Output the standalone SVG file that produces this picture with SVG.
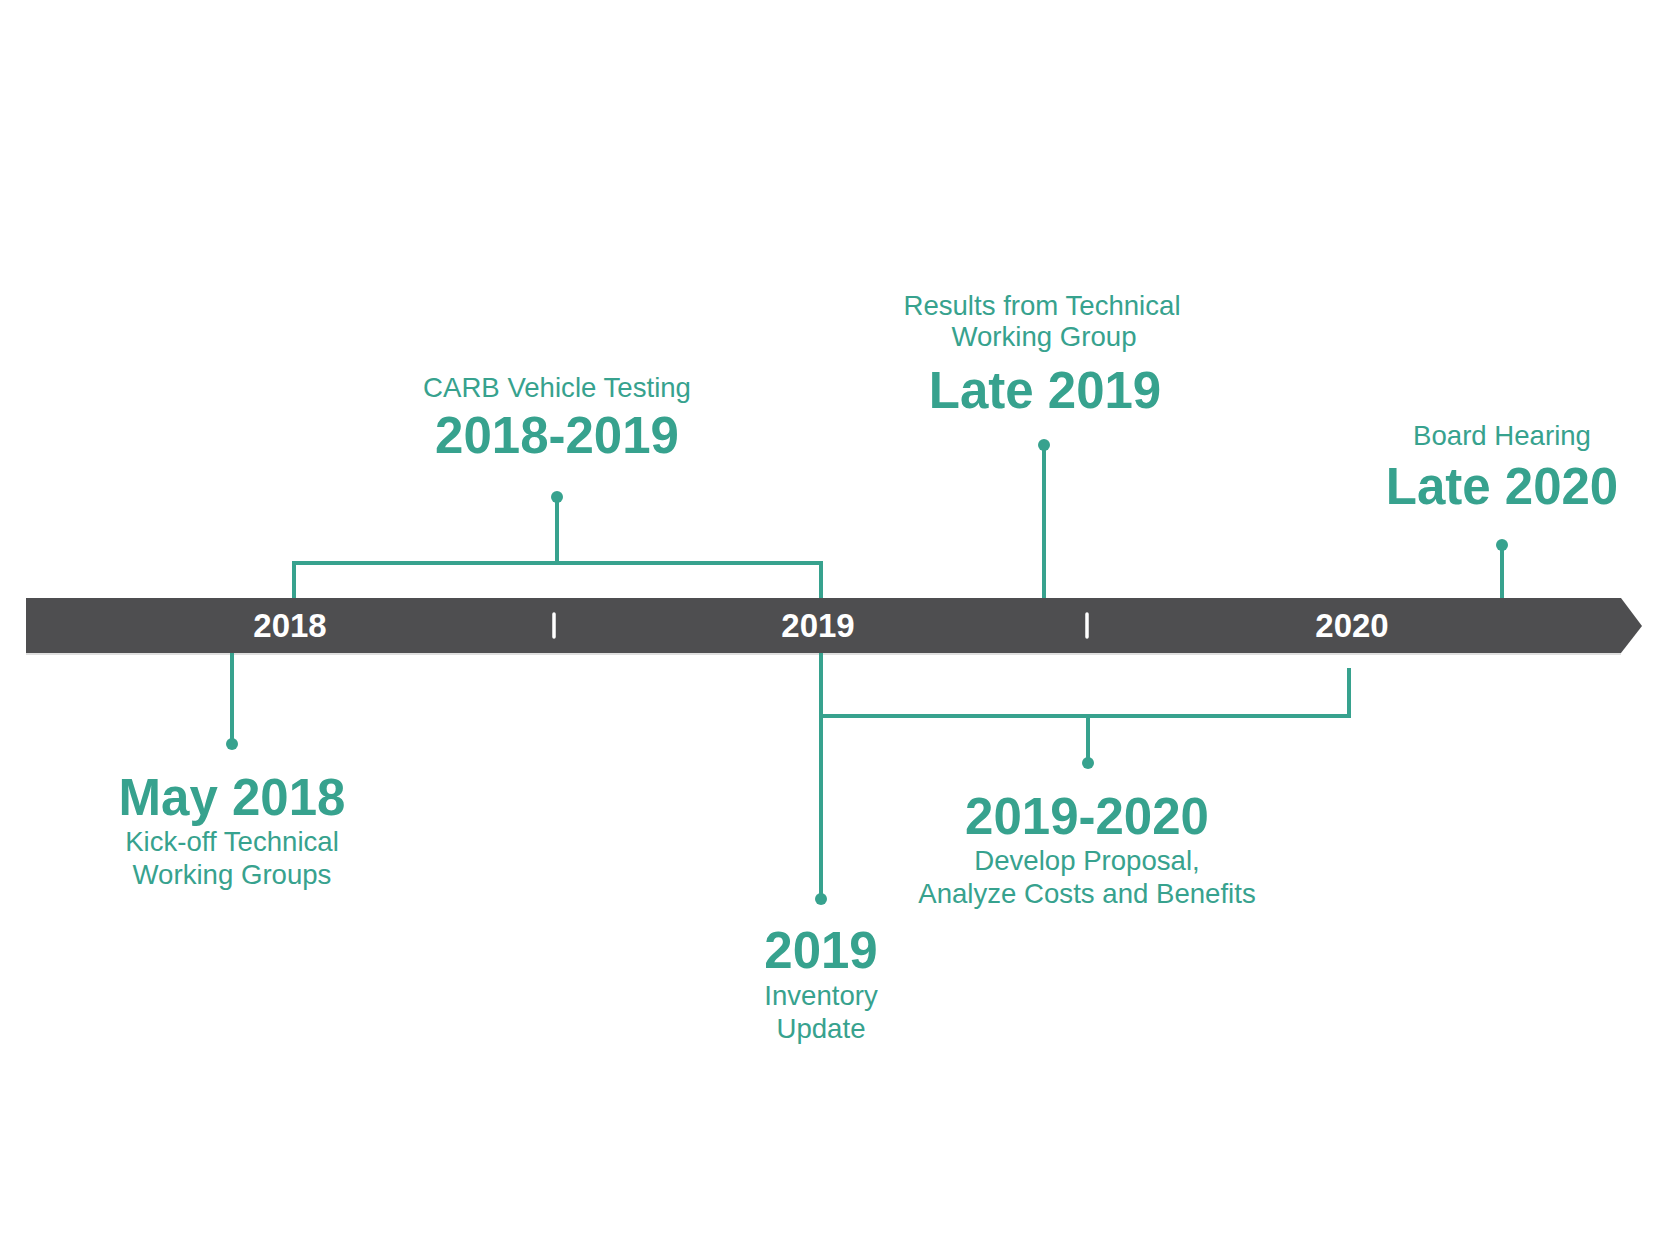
<svg xmlns="http://www.w3.org/2000/svg" width="1667" height="1250" viewBox="0 0 1667 1250">
<style>
.t{font-family:"Liberation Sans",Arial,sans-serif;fill:#37a28e;text-anchor:middle}
.big{font-size:51px;font-weight:bold}
.sm{font-size:27.6px}
.yr{font-family:"Liberation Sans",Arial,sans-serif;font-size:33px;font-weight:bold;fill:#ffffff;text-anchor:middle}
.ln{fill:none;stroke:#37a28e;stroke-width:4}
.dot{fill:#37a28e}
</style>
<rect width="1667" height="1250" fill="#ffffff"/>
<g id="timeline-bar">
<polygon points="26,598 1621,598 1642,626 1621,653 26,653" fill="#4e4e50"/>
<line x1="26" y1="654" x2="1621" y2="654" stroke="#d4d4d4" stroke-width="1.5"/>
<line x1="554" y1="614" x2="554" y2="637" stroke="#ffffff" stroke-width="3.5" stroke-linecap="round"/>
<line x1="1087" y1="614" x2="1087" y2="637" stroke="#ffffff" stroke-width="3.5" stroke-linecap="round"/>
<text class="yr" x="290" y="637">2018</text>
<text class="yr" x="818" y="637">2019</text>
<text class="yr" x="1352" y="637">2020</text>
</g>
<g id="connectors">
<polyline class="ln" points="294,598 294,563 821,563 821,598"/>
<line class="ln" x1="557" y1="563" x2="557" y2="497"/>
<circle class="dot" cx="557" cy="497" r="6"/>
<line class="ln" x1="1044" y1="598" x2="1044" y2="445"/>
<circle class="dot" cx="1044" cy="445" r="6"/>
<line class="ln" x1="1502" y1="598" x2="1502" y2="545"/>
<circle class="dot" cx="1502" cy="545" r="6"/>
<line class="ln" x1="232" y1="653" x2="232" y2="744"/>
<circle class="dot" cx="232" cy="744" r="6"/>
<line class="ln" x1="821" y1="653" x2="821" y2="899"/>
<circle class="dot" cx="821" cy="899" r="6"/>
<polyline class="ln" points="821,716 1349,716 1349,668"/>
<line class="ln" x1="1088" y1="716" x2="1088" y2="763"/>
<circle class="dot" cx="1088" cy="763" r="6"/>
</g>
<g id="node-carb-testing">
<text class="t sm" x="557" y="397">CARB Vehicle Testing</text>
<text class="t big" x="557" y="453">2018-2019</text>
</g>
<g id="node-late-2019">
<text class="t sm" x="1042" y="315">Results from Technical</text>
<text class="t sm" x="1044" y="346">Working Group</text>
<text class="t big" x="1045" y="408">Late 2019</text>
</g>
<g id="node-late-2020">
<text class="t sm" x="1502" y="445">Board Hearing</text>
<text class="t big" x="1502" y="504">Late 2020</text>
</g>
<g id="node-may-2018">
<text class="t big" x="232" y="815">May 2018</text>
<text class="t sm" x="232" y="851">Kick-off Technical</text>
<text class="t sm" x="232" y="884">Working Groups</text>
</g>
<g id="node-2019">
<text class="t big" x="821" y="968">2019</text>
<text class="t sm" x="821" y="1005">Inventory</text>
<text class="t sm" x="821" y="1038">Update</text>
</g>
<g id="node-2019-2020">
<text class="t big" x="1087" y="834">2019-2020</text>
<text class="t sm" x="1087" y="870">Develop Proposal,</text>
<text class="t sm" x="1087" y="903">Analyze Costs and Benefits</text>
</g>
</svg>
